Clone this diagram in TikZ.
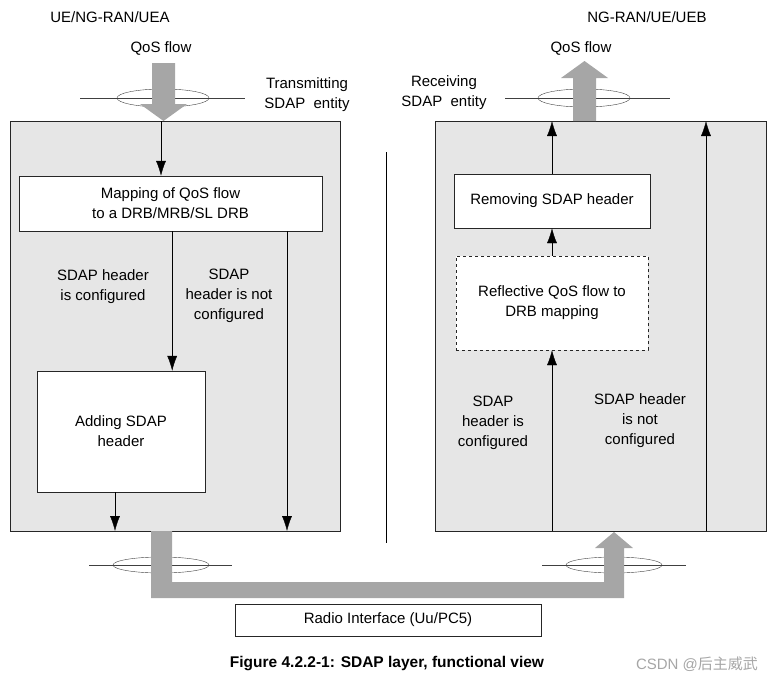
\documentclass[tikz,border=0pt]{standalone}
\usepackage{fontspec}
\setmainfont{Liberation Sans}
\newfontfamily\cjk{Noto Sans CJK SC}
\usetikzlibrary{arrows.meta,positioning}
\definecolor{panelgray}{HTML}{E6E6E6}
\definecolor{pipegray}{HTML}{A6A6A6}
\tikzset{
  panel/.style={draw=black!85,fill=panelgray},
  box/.style={draw=black!85,fill=white,align=center},
  lbl/.style={align=center,font=\fontsize{15}{20}\selectfont},
  flow/.style={-{Latex[length=15pt,width=10pt]},black},
  pipe/.style={fill=pipegray,draw=none},
  ring/.style={draw=black!75}
}
\begin{document}
\begin{tikzpicture}[x=1pt,y=-1pt,font=\fontsize{15}{20}\selectfont]
\useasboundingbox (0,0) rectangle (780,683);
% panels
\draw[panel] (10,121) rectangle (340,531);
\draw[panel] (435,121) rectangle (766,531);
\draw (386,152) -- (386,543);
% titles
\node[lbl] (tleft) at (110,17) {UE/NG-RAN/UEA};
\node[lbl] (tright) at (647,17) {NG-RAN/UE/UEB};
\node[lbl] (qleft) at (161,48) {QoS flow};
\node[lbl] (qright) at (581,48) {QoS flow};
\node[lbl] (tx) at (307,95) {Transmitting\\SDAP\ \ entity};
\node[lbl] (rx) at (444,93) {Receiving\\SDAP\ \ entity};
% rings
\draw[ring] (80,98) -- (245,98);
\draw[ring] (163,98) ellipse (46 and 9);
\draw[ring] (505,98) -- (670,98);
\draw[ring] (584,98) ellipse (46 and 9);
\draw[ring] (89,565) -- (232,565);
\draw[ring] (161,565) ellipse (48 and 8);
\draw[ring] (542,565) -- (686,565);
\draw[ring] (614,565) ellipse (48 and 8);
% thick gray flows
\fill[pipe] (152,63) -- (175,63) -- (175,104) -- (187,104) -- (163.5,121) -- (140,104) -- (152,104) -- cycle;
\fill[pipe] (573,121) -- (596,121) -- (596,78) -- (608,78) -- (584.5,61) -- (561,78) -- (573,78) -- cycle;
\fill[pipe] (151,531) -- (172,531) -- (172,582) -- (604,582) -- (604,548) -- (595,548) -- (614,532) -- (633,548) -- (624,548) -- (624,598) -- (151,598) -- cycle;
% transmitting side
\node[box,minimum width=303,minimum height=55] (map) at (170.5,203.5) {Mapping of QoS flow\\to a DRB/MRB/SL DRB};
\node[box,minimum width=168,minimum height=121] (add) at (121,431.5) {Adding SDAP\\header};
\coordinate (tin) at (161,121);
\coordinate (tout1) at (115,531);
\coordinate (tout2) at (287,531);
\draw[flow] (tin) -- (tin |- map.north);
\draw[flow] (map.south -| add.north east) ++(-33,0) coordinate (m1) -- (m1 |- add.north);
\draw[flow] (tout2 |- map.south) -- (tout2);
\draw[flow] (tout1 |- add.south) -- (tout1);
\node[lbl] (cfg) at (103,287) {SDAP header\\is configured};
\node[lbl] (ncfg) at (229,296) {SDAP\\header is not\\configured};
% receiving side
\node[box,minimum width=196,minimum height=54] (rem) at (552,201) {Removing SDAP header};
\node[box,dashed,minimum width=192,minimum height=94] (refl) at (552,303) {Reflective QoS flow to\\DRB mapping};
\coordinate (rin1) at (552,531);
\coordinate (rin2) at (706,531);
\draw[flow] (rin1) -- (refl.south);
\draw[flow] (refl.north) -- (rem.south);
\draw[flow] (rem.north) -- (rem.north |- tin);
\draw[flow] (rin2) -- (rin2 |- tin);
\node[lbl] (rcfg) at (493,423) {SDAP\\header is\\configured};
\node[lbl] (rncfg) at (640,421) {SDAP header\\is not\\configured};
% radio interface
\node[box,minimum width=306,minimum height=32] (radio) at (388,620) {Radio Interface (Uu/PC5)};
\node[font=\bfseries\fontsize{15.5}{18}\selectfont] (cap) at (387,664) {Figure 4.2.2-1: SDAP layer, functional view};
\node[text=black!35] (mark) at (697,664) {CSDN @{\cjk 后主威武}};
\end{tikzpicture}
\end{document}
